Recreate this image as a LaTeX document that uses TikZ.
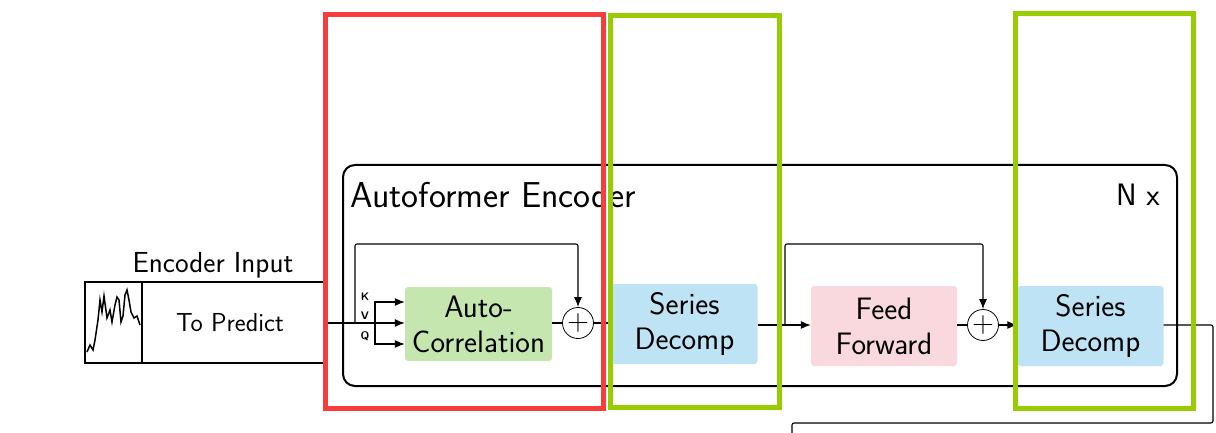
\documentclass[tikz,border=0pt]{standalone}
\usetikzlibrary{arrows.meta}
\renewcommand{\familydefault}{\sfdefault}
\definecolor{cg}{HTML}{C6E6B0}
\definecolor{cb}{HTML}{BEE3F5}
\definecolor{cp}{HTML}{F9D9DE}
\definecolor{cred}{HTML}{F83C3C}
\definecolor{cgr}{HTML}{99CC00}
\begin{document}
\begin{tikzpicture}[x=1pt,y=-1pt,
  blk/.style={rounded corners=3pt,minimum width=146pt,minimum height=80pt,align=center,font=\fontsize{31}{35}\selectfont,inner sep=0},
  pl/.style={circle,draw,thick,minimum size=31pt,inner sep=0,font=\fontsize{30}{30}\selectfont},
  ln/.style={line width=1.1pt},
  ar/.style={ln,-{Latex[length=10pt,width=8pt]}},
  hl/.style={line width=5pt}]
\useasboundingbox (0,0) rectangle (1216,433);
\draw[line width=2pt,rounded corners=12pt] (343,165) rectangle (1177,386);
\node[anchor=west,font=\fontsize{36}{40}\selectfont] (title) at (347,195) {Autoformer Encoder};
\node[font=\fontsize{31}{35}\selectfont] (nx) at (1138,195) {N x};
% input
\draw[ln] (323,282) -- (85,282) -- (85,363) -- (323,363);
\draw[ln] (142,282) -- (142,363);
\node[font=\fontsize{29}{33}\selectfont] (ei) at (213,265) {Encoder Input};
\node[font=\fontsize{26}{30}\selectfont] (tp) at (230,323) {To Predict};
\draw[line width=1.5pt] (87,352) -- (90,345) -- (93,350) -- (95,340) -- (98,320) -- (100,300) -- (102,312) -- (104,296) -- (107,318) -- (110,310) -- (112,322) -- (115,305) -- (117,297) -- (119,300) -- (121,322) -- (123,316) -- (125,295) -- (127,290) -- (129,300) -- (131,312) -- (134,318) -- (137,316) -- (140,325);
\node[blk,fill=cg,minimum width=147pt,minimum height=74pt] (ac) at (478.5,324) {Auto-\\Correlation};
\node[pl] (p1) at (578,323) {+};
\node[blk,fill=cb] (sd1) at (684.5,324) {Series\\Decomp};
\node[blk,fill=cp] (ff) at (884,326) {Feed\\Forward};
\node[pl] (p2) at (983,325) {+};
\node[blk,fill=cb] (sd2) at (1090.5,326) {Series\\Decomp};
\coordinate (in) at (323,323);
\coordinate (br) at (375,323);
\coordinate (lp) at (355,323);
\draw[ln] (in) -- (br);
\draw[ar] (br) |- (ac.west |- 0,302);
\draw[ar] (br) -- (ac.west |- 0,323);
\draw[ar] (br) |- (ac.west |- 0,344);
\node[font=\bfseries\fontsize{11}{11}\selectfont] (k) at (365,297) {K};
\node[font=\bfseries\fontsize{11}{11}\selectfont] (v) at (365,316) {V};
\node[font=\bfseries\fontsize{11}{11}\selectfont] (q) at (365,336) {Q};
\draw[ar,rounded corners=2pt] (lp) -- (355,244) -- (578,244) -- (p1.north);
\draw[ln] (ac.east |- p1) -- (p1);
\draw[ln] (p1) -- (sd1.west |- p1);
\draw[ar] (sd1.east |- 0,325) -- (ff.west |- 0,325);
\draw[ar,rounded corners=2pt] (785,325) -- (785,244) -- (983,244) -- (p2.north);
\draw[ln] (ff.east |- p2) -- (p2);
\draw[ar] (p2) -- (sd2.west |- p2);
\coordinate (o1) at (1213,325);
\coordinate (o2) at (792,433);
\draw[ln,rounded corners=2pt] (sd2.east |- o1) -- (o1) -- (1213,423) -- (792,423) -- (o2);
% highlights
\draw[hl,cred] (325,15) rectangle (603,408);
\draw[hl,cgr] (610,16) rectangle (779,407);
\draw[hl,cgr] (1015,14) rectangle (1193,408);
\end{tikzpicture}
\end{document}
